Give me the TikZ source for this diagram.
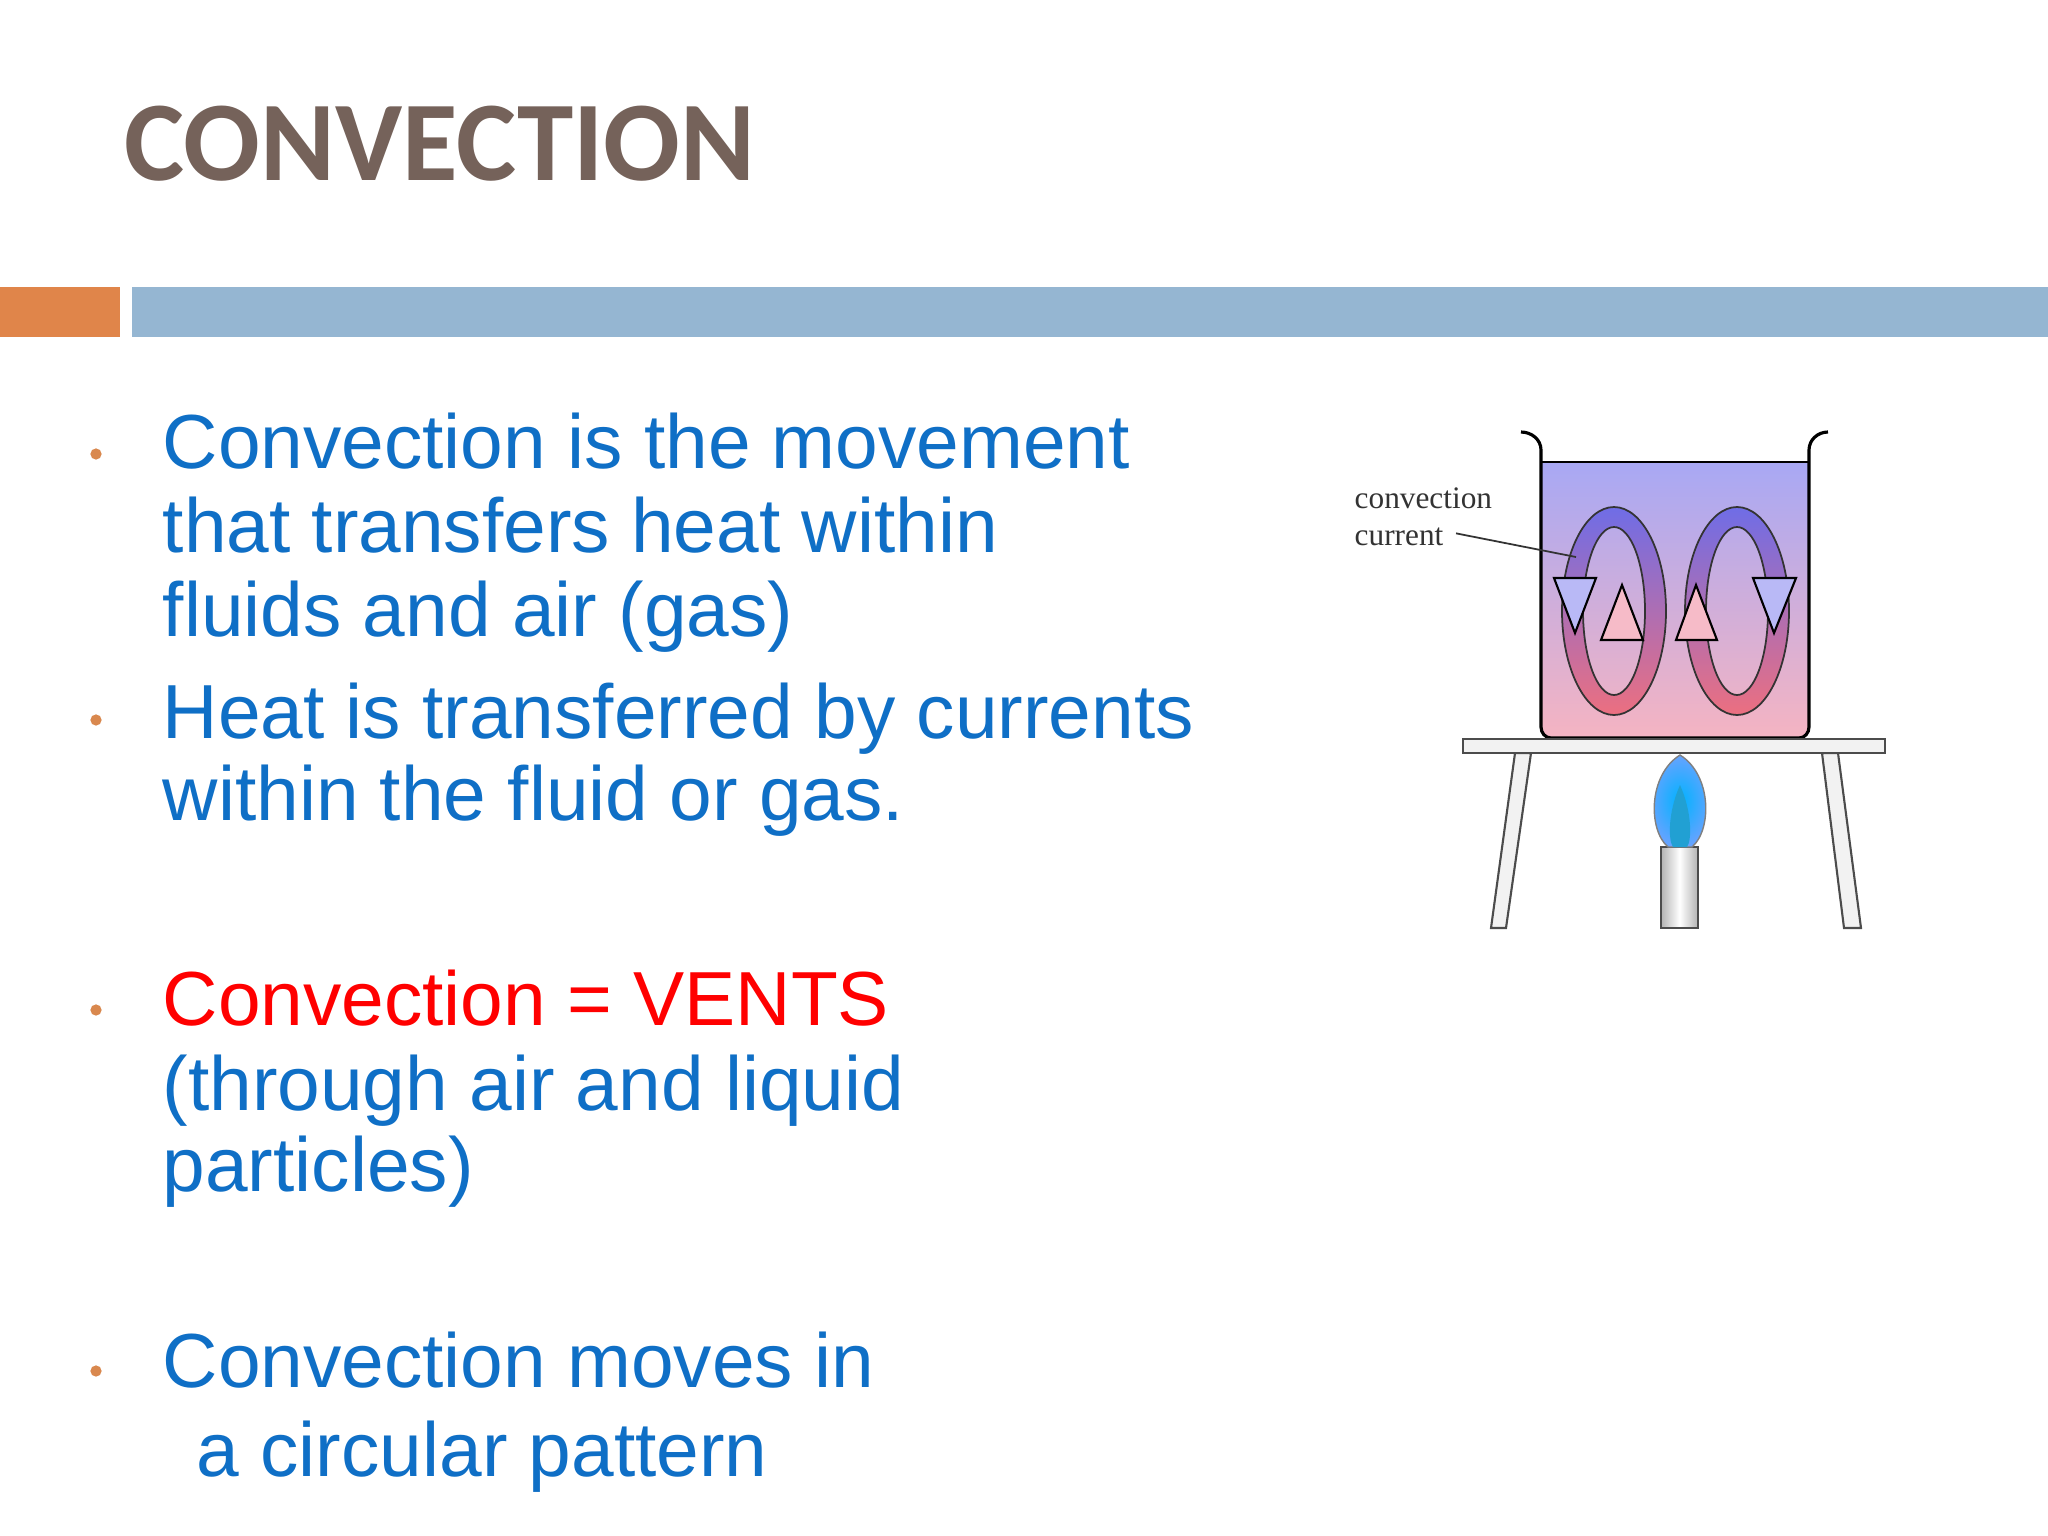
\documentclass[tikz,border=0pt]{standalone}
\usepackage{fontspec}
\setmainfont{Liberation Sans}
\newfontfamily\titlefont{Carlito}
\newfontfamily\seriffont{Liberation Serif}
\definecolor{titlec}{HTML}{75625A}
\definecolor{orangebar}{HTML}{E0854A}
\definecolor{bluebar}{HTML}{95B6D2}
\definecolor{bodyblue}{HTML}{0F6FC6}
\definecolor{bulletc}{HTML}{D9884E}
\definecolor{liqtop}{HTML}{A8A8F4}
\definecolor{liqbot}{HTML}{F5B4C2}
\definecolor{looptop}{HTML}{6F6DE6}
\definecolor{loopbot}{HTML}{EC6F80}
\begin{document}
\begin{tikzpicture}[x=0.01cm,y=-0.01cm,
  body/.style={anchor=base west,inner sep=0,font=\fontsize{21.8}{22}\selectfont,text=bodyblue},
  dot/.style={circle,fill=bulletc,inner sep=0,minimum size=3.2pt},
  ring/.style={draw=black!80,line width=0.5pt,even odd rule,top color=looptop,bottom color=loopbot},
  downtri/.style={draw=black,line width=0.6pt,fill=liqtop!80!white},
  uptri/.style={draw=black,line width=0.6pt,fill=liqbot!90!white},
  metal/.style={draw=black!70,line width=0.6pt,fill=gray!10}]
\useasboundingbox (0,0) rectangle (2048,1536);
\fill[white] (0,0) rectangle (2048,1536);
% title
\node[anchor=base west,inner sep=0,text=titlec,font=\titlefont\bfseries\fontsize{32.3}{33}\selectfont] (title) at (124,180) {CONVECTION};
\fill[orangebar] (0,287) rectangle (120,337);
\fill[bluebar] (132,287) rectangle (2048,337);
% bullets
\node[dot] (b1) at (96,454) {};
\node[dot] (b2) at (96,720) {};
\node[dot] (b3) at (96,1010) {};
\node[dot] (b4) at (96,1371) {};
\node[body] (l1) at (162,468) {Convection is the movement};
\node[body] (l2) at (162,552) {that transfers heat within};
\node[body] (l3) at (162,636) {fluids and air (gas)};
\node[body] (l4) at (162,738) {Heat is transferred by currents};
\node[body] (l5) at (162,820) {within the fluid or gas.};
\node[body,text=red] (l6) at (162,1025) {Convection = VENTS};
\node[body] (l7) at (162,1110) {(through air and liquid};
\node[body] (l8) at (162,1191) {particles)};
\node[body] (l9) at (162,1387) {Convection moves in};
\node[body] (l10) at (196,1476) {a circular pattern};
% beaker liquid
\shade[top color=liqtop,bottom color=liqbot] (1541,462) -- (1809,462) -- (1809,727) to[out=-90,in=0] (1799,738) -- (1551,738) to[out=180,in=-90] (1541,727) -- cycle;
\draw[line width=0.7pt] (1541,462) -- (1809,462);
\draw[line width=0.9pt] (1521,432) to[out=0,in=90] (1541,450) -- (1541,727) to[out=-90,in=180] (1551,738) -- (1799,738) to[out=0,in=-90] (1809,727) -- (1809,450) to[out=90,in=180] (1828,432);
% loops
\shade[ring] (1614,611) ellipse (52 and 104) (1614,611) ellipse (31 and 84);
\shade[ring] (1737,611) ellipse (52 and 104) (1737,611) ellipse (31 and 84);
\draw[downtri] (1554,578) -- (1596,578) -- (1575,633) -- cycle;
\draw[uptri] (1601,640) -- (1643,640) -- (1622,585) -- cycle;
\draw[uptri] (1676,640) -- (1717,640) -- (1696,585) -- cycle;
\draw[downtri] (1753,578) -- (1796,578) -- (1774,633) -- cycle;
% label
\node[anchor=base west,inner sep=0,font=\seriffont\fontsize{8.9}{10}\selectfont,text=black!80] (lab1) at (1354,508) {convection};
\node[anchor=base west,inner sep=0,font=\seriffont\fontsize{8.9}{10}\selectfont,text=black!80] (lab2) at (1354,545) {current};
\coordinate (tip) at (1576,557);
\draw[line width=0.5pt,black!80] (lab2.east) ++(12,-3) -- (tip);
% stand
\draw[metal] (1515,753) -- (1531,753) -- (1506,928) -- (1491,928) -- cycle;
\draw[metal] (1822,753) -- (1838,753) -- (1861,928) -- (1844,928) -- cycle;
\draw[metal] (1463,739) rectangle (1885,753);
% burner
\shade[left color=gray!60,right color=gray!60,middle color=white,draw=black!70,line width=0.6pt] (1661,847) rectangle (1698,928);
\shade[inner color=cyan!70!blue,outer color=cyan!40!blue!60,draw=black!50,line width=0.4pt] (1680,755) .. controls (1712,775) and (1712,830) .. (1692,847) -- (1668,847) .. controls (1648,830) and (1648,775) .. (1680,755) -- cycle;
\fill[cyan!70!teal] (1680,785) .. controls (1692,812) and (1692,840) .. (1687,847) -- (1673,847) .. controls (1668,840) and (1668,812) .. (1680,785);
\end{tikzpicture}
\end{document}
